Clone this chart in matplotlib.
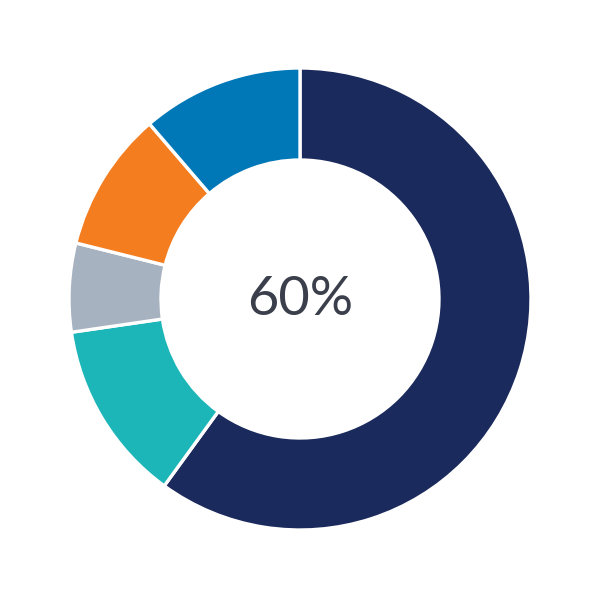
import matplotlib
matplotlib.use("Agg")
import matplotlib.pyplot as plt

labels = ["Navy", "Teal", "Gray", "Orange", "Blue"]
values = [60, 12.7, 6.2, 9.8, 11.3]
colors = ["#1b2a5c", "#1cb5b8", "#a7b2c0", "#f47d20", "#0077b6"]
center_text = "60%"

fig = plt.figure(figsize=(6, 5.99), dpi=100)
ax = fig.add_axes([0, 0, 1, 1])
R = 231
ax.pie(values, colors=colors, startangle=90, counterclock=False,
       radius=1, wedgeprops=dict(width=92 / R, edgecolor="white", linewidth=2.4))
ax.set_xlim(-300 / R, 300 / R)
ax.set_ylim(-300 / R, 299 / R)
ax.set_aspect("equal")
ax.axis("off")
ax.text(0, 0, center_text, ha="center", va="center", fontsize=39,
        family=["Lato", "DejaVu Sans"], color="#3a3f4b")
fig.savefig("out.png", dpi=100, facecolor="white")
